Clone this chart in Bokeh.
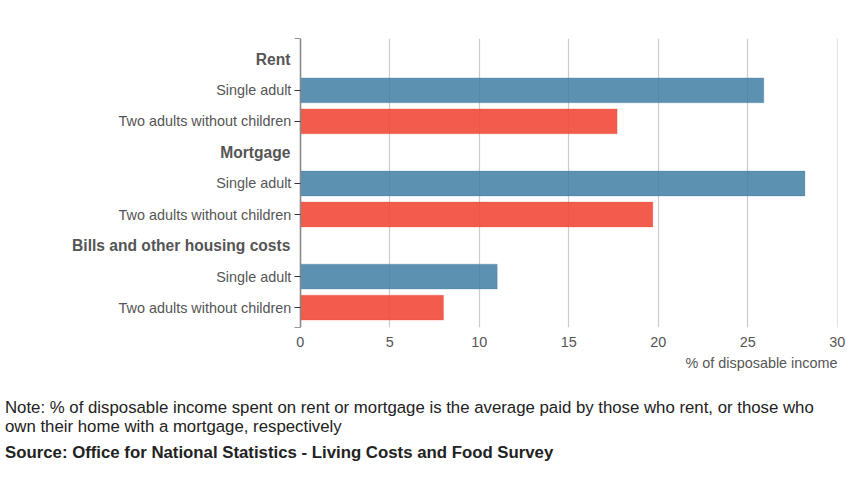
from bokeh.plotting import figure
from bokeh.models import (ColumnDataSource, Range1d, FixedTicker, LinearAxis, Div, Title)
from bokeh.layouts import column
from bokeh.core.properties import value
from bokeh.embed import file_html
from bokeh.resources import INLINE

groups = ["Rent", "Mortgage", "Bills and other housing costs"]
households = ["Single adult", "Two adults without children"]
single_values = [25.9, 28.2, 11.0]
couple_values = [17.7, 19.7, 8.0]
x_ticks = [0, 5, 10, 15, 20, 25, 30]
x_title = "% of disposable income"
note_text = ("Note: % of disposable income spent on rent or mortgage is the average paid by those who rent, "
             "or those who own their home with a mortgage, respectively")
source_text = "Source: Office for National Statistics - Living Costs and Food Survey"

FONT = "Liberation Sans"
BLUE = "#3f7ea3"
RED = "#f04a3a"
TXT = "#555555"

header_y, single_y, couple_y = [], [], []
for i, g in enumerate(groups):
    header_y.append(3 * i)
    single_y.append(3 * i + 1)
    couple_y.append(3 * i + 2)

y_top, y_bottom = -0.67, 8.64

# frame spans the full width; zero sits 300px from the left
PX = 537 / 30.0
FRAME_W = 837
x_start = -300 / PX
x_end = (FRAME_W - 300) / PX + 0.02

p = figure(width=848, height=380, output_backend="svg", toolbar_location=None,
           x_range=Range1d(x_start, x_end), y_range=Range1d(y_bottom, y_top),
           y_axis_location=None,
           min_border_left=0, min_border_right=848 - FRAME_W, min_border_top=38, min_border_bottom=53)
p.outline_line_color = None
p.background_fill_color = "white"

p.ygrid.visible = False

src_s = ColumnDataSource(dict(y=single_y, v=single_values))
src_c = ColumnDataSource(dict(y=couple_y, v=couple_values))
p.hbar(y="y", right="v", left=0, height=0.8, source=src_s, fill_color=BLUE, fill_alpha=0.85,
       line_color=BLUE, line_alpha=0.3)
p.hbar(y="y", right="v", left=0, height=0.8, source=src_c, fill_color=RED, fill_alpha=0.9,
       line_color=RED, line_alpha=0.3)

# x axis
xa = p.xaxis[0]
xa.ticker = FixedTicker(ticks=x_ticks)
xa.axis_line_color = None
xa.major_tick_line_color = None
xa.minor_tick_line_color = None
xa.major_label_text_font = FONT
xa.major_label_text_font_size = "14.4px"
xa.major_label_text_color = TXT
xa.major_label_standoff = 3

p.add_layout(Title(text=x_title, align="right", text_font=FONT, text_font_size="14.4px",
                   text_font_style="normal", text_color=TXT, standoff=6), "below")

p.xgrid.ticker = FixedTicker(ticks=x_ticks)
p.xgrid.grid_line_color = "#cccccc"
p.xgrid.grid_line_width = 1.2

# y axis placed at x = 0
y_cap_top, y_cap_bottom = y_top + 0.01, y_bottom - 0.01
yt = sorted([y_cap_top] + single_y + couple_y + [y_cap_bottom])
overrides = {y_cap_top: "", y_cap_bottom: ""}
for i in range(len(groups)):
    overrides[single_y[i]] = households[0]
    overrides[couple_y[i]] = households[1]
ya = LinearAxis(fixed_location=0, ticker=FixedTicker(ticks=yt), major_label_overrides=overrides)
ya.axis_line_color = "#888888"
ya.axis_line_width = 1.5
ya.major_tick_line_color = "#333333"
ya.major_tick_line_width = 1.2
ya.major_tick_out = 6
ya.major_tick_in = 0
ya.minor_tick_line_color = None
ya.major_label_text_font = FONT
ya.major_label_text_font_size = "14.4px"
ya.major_label_text_color = TXT
ya.major_label_standoff = 3
p.add_layout(ya, "left")

# group headers
p.text(x=[0] * len(groups), y=header_y, text=groups, x_offset=-10, text_align="right",
       text_baseline="middle", text_font=value(FONT), text_font_size="15.6px",
       text_font_style="bold", text_color=TXT)

note = Div(text=note_text, width=830,
           styles={"font-family": FONT, "font-size": "16.8px", "color": "#222222",
                   "line-height": "19px"}, margin=(18, 0, 0, 5))
srcdiv = Div(text=source_text, width=830,
             styles={"font-family": FONT, "font-size": "16.8px", "color": "#222222",
                     "font-weight": "bold", "line-height": "19px"}, margin=(7, 0, 0, 5))

layout = column(p, note, srcdiv, spacing=0)
open("out.html", "w").write(file_html(layout, INLINE))
